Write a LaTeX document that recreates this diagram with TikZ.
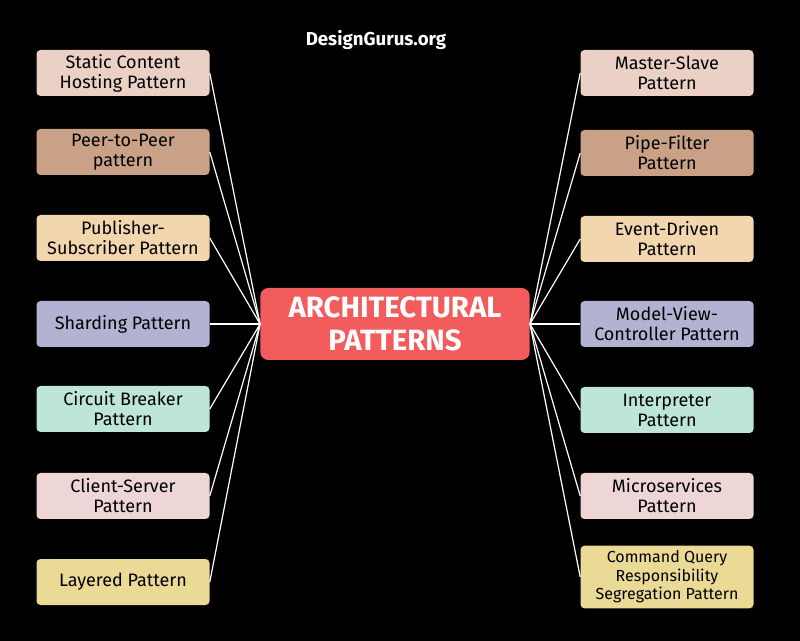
\documentclass[tikz,border=0pt]{standalone}
\usepackage{fontspec}
\setmainfont{Fira Sans}
\definecolor{c1}{HTML}{EBD1C5}\definecolor{c2}{HTML}{C9A187}\definecolor{c3}{HTML}{F2D6AE}
\definecolor{c4}{HTML}{B2B2D2}\definecolor{c5}{HTML}{BDE5DA}\definecolor{c6}{HTML}{EFD6D6}
\definecolor{c7}{HTML}{EBD996}\definecolor{cred}{HTML}{F25C5C}
\begin{document}
\begin{tikzpicture}[x=0.75pt,y=-0.75pt,
  box/.style={draw=none,rounded corners=3pt,minimum width=129.75pt,minimum height=34.5pt,align=center,font=\fontsize{13.5}{15}\selectfont,text=black,inner sep=1pt},
  link/.style={white,line width=0.9pt}]
\fill[black] (0,0) rectangle (800,641);
\useasboundingbox (0,0) rectangle (800,641);
\node[white,font=\bfseries\fontsize{14}{16}\selectfont] (title) at (376,40) {DesignGurus.org};
\node[fill=cred,rounded corners=6pt,minimum width=202pt,minimum height=54pt,align=center,text=white,font=\bfseries\fontsize{22}{25}\selectfont] (c) at (395,324) {ARCHITECTURAL\\PATTERNS};
\node[box,fill=c1] (l1) at (123,73) {Static Content\\Hosting Pattern};
\node[box,fill=c2] (l2) at (123,152) {Peer-to-Peer\\pattern};
\node[box,fill=c3] (l3) at (123,238) {Publisher-\\Subscriber Pattern};
\node[box,fill=c4] (l4) at (123,324) {Sharding Pattern};
\node[box,fill=c5] (l5) at (123,409) {Circuit Breaker\\Pattern};
\node[box,fill=c6] (l6) at (123,496) {Client-Server\\Pattern};
\node[box,fill=c7] (l7) at (123,582) {Layered Pattern};
\node[box,fill=c1] (r1) at (667,73) {Master-Slave\\Pattern};
\node[box,fill=c2] (r2) at (667,153) {Pipe-Filter\\Pattern};
\node[box,fill=c3] (r3) at (667,239) {Event-Driven\\Pattern};
\node[box,fill=c4] (r4) at (667,324) {Model-View-\\Controller Pattern};
\node[box,fill=c5] (r5) at (667,410) {Interpreter\\Pattern};
\node[box,fill=c6] (r6) at (667,496) {Microservices\\Pattern};
\node[box,fill=c7,minimum height=47pt,font=\fontsize{12}{14}\selectfont] (r7) at (667,577) {Command Query\\Responsibility\\Segregation Pattern};
\foreach \n in {l1,l2,l3,l4,l5,l6,l7} \draw[link] (\n.east) -- (c.west);
\foreach \n in {r1,r2,r3,r4,r5,r6,r7} \draw[link] (c.east) -- (\n.west);
\end{tikzpicture}
\end{document}
